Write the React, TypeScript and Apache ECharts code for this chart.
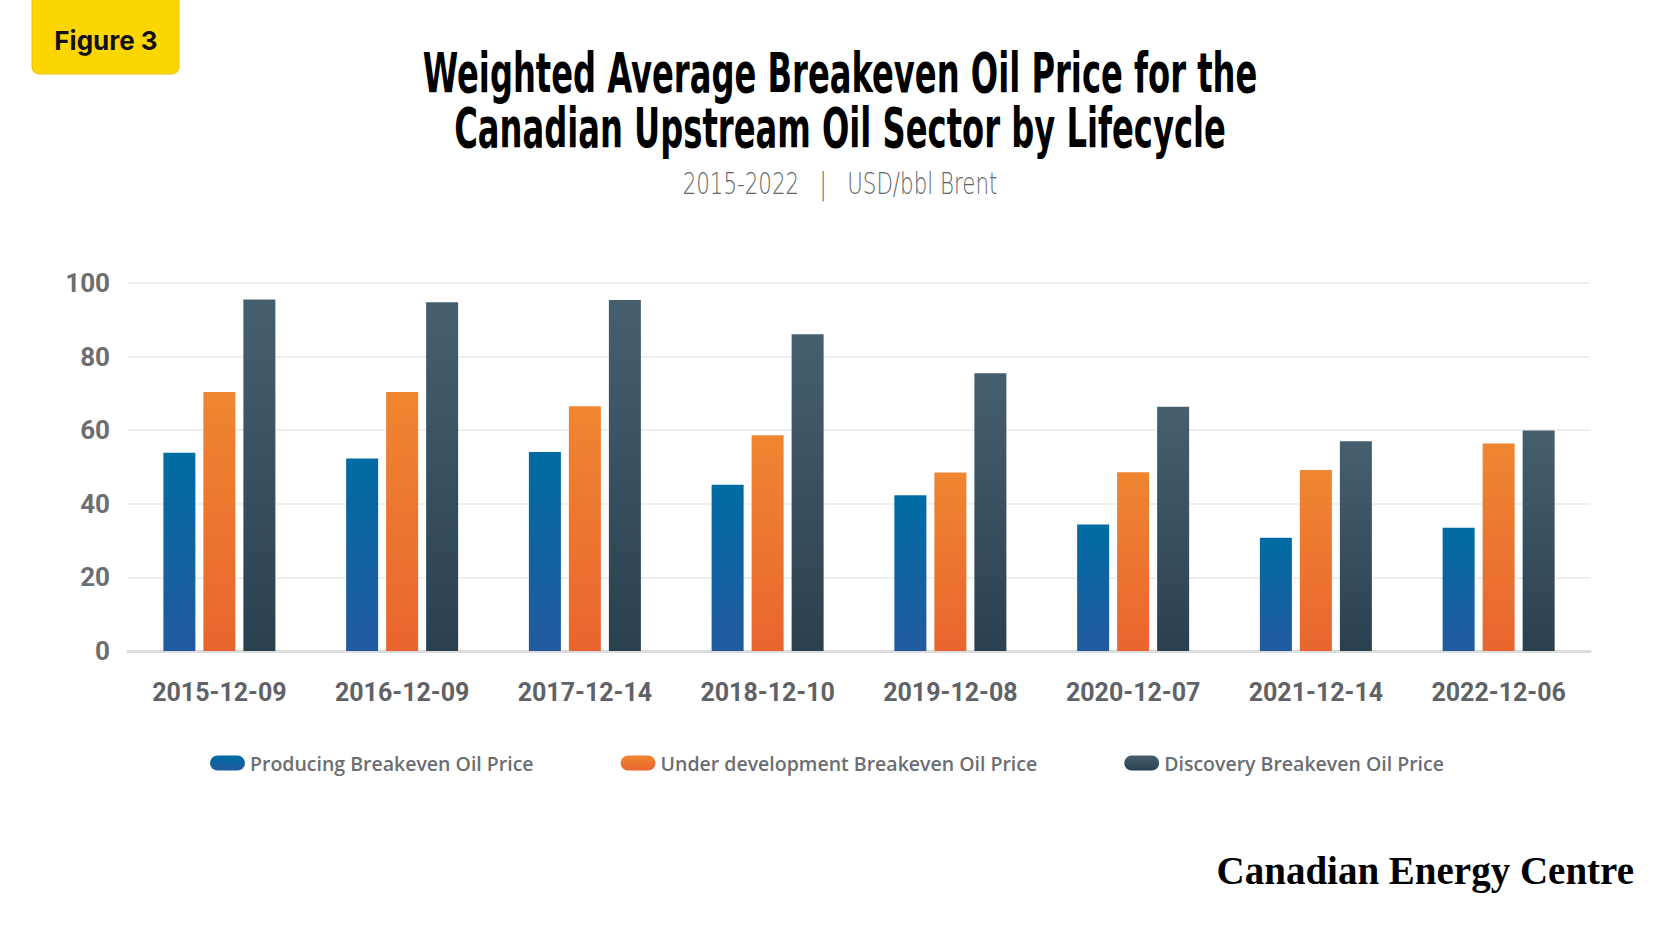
import React, { useRef, useEffect } from "react";
import * as echarts from "echarts";

const categories = [
  "2015-12-09",
  "2016-12-09",
  "2017-12-14",
  "2018-12-10",
  "2019-12-08",
  "2020-12-07",
  "2021-12-14",
  "2022-12-06",
];
const producing = [53.9, 52.3, 54.1, 45.2, 42.3, 34.4, 30.8, 33.5];
const underDevelopment = [70.4, 70.4, 66.5, 58.6, 48.5, 48.6, 49.2, 56.4];
const discovery = [95.5, 94.8, 95.4, 86.1, 75.5, 66.4, 57.0, 59.9];
const seriesNames = [
  "Producing Breakeven Oil Price",
  "Under development Breakeven Oil Price",
  "Discovery Breakeven Oil Price",
];
const titleLines = [
  "Weighted Average Breakeven Oil Price for the",
  "Canadian Upstream Oil Sector by Lifecycle",
];
const subtitle = "2015-2022   |   USD/bbl Brent";

const axisFont = "Roboto, sans-serif";
const pill = "path://M7.5,0 H27.5 A7.5,7.5 0 0 1 27.5,15 H7.5 A7.5,7.5 0 0 1 7.5,0 Z";

const grad = (top: string, bottom: string) =>
  new echarts.graphic.LinearGradient(0, 0, 0, 1, [
    { offset: 0, color: top },
    { offset: 1, color: bottom },
  ]);

const App = function () {
  const chart = useRef<HTMLDivElement>(null);
  useEffect(() => {
    if (!chart.current) return;
    const myChart = echarts.init(chart.current, null, { renderer: "svg" });
    const barStyle = (top: string, bottom: string) => ({
      color: grad(top, bottom),
    });
    const option = {
      animation: false,
      backgroundColor: "#fff",
      grid: { left: 128, right: 90, top: 283, bottom: 277 },
      legend: {
        top: 748,
        left: 205,
        icon: pill,
        itemWidth: 35,
        itemHeight: 15,
        itemGap: 87,
        textStyle: {
          color: "#6b6e73",
          fontSize: 19.5,
          fontWeight: 600,
          fontFamily: '"Open Sans", sans-serif',
        },
        data: seriesNames,
      },
      xAxis: {
        type: "category",
        data: categories,
        axisLine: { lineStyle: { color: "#dcdcdc", width: 3 } },
        axisTick: {
          alignWithLabel: true,
          length: 10,
          lineStyle: { color: "#d0d0d0", width: 2 },
        },
        axisLabel: {
          interval: 0,
          color: "#5f6266",
          fontSize: 25,
          fontWeight: "bold",
          fontFamily: axisFont,
          margin: 29,
        },
      },
      yAxis: {
        type: "value",
        min: 0,
        max: 100,
        interval: 20,
        axisLabel: {
          color: "#6b6e73",
          fontSize: 26,
          fontWeight: "bold",
          fontFamily: axisFont,
          margin: 18,
        },
        splitLine: { lineStyle: { color: "#efefef", width: 2 } },
      },
      series: [
        {
          name: seriesNames[0],
          type: "bar",
          data: producing,
          barWidth: 32,
          barGap: "25%",
          itemStyle: barStyle("#006ba3", "#225a9f"),
        },
        {
          name: seriesNames[1],
          type: "bar",
          data: underDevelopment,
          barWidth: 32,
          barGap: "25%",
          itemStyle: barStyle("#ef8631", "#e9652f"),
        },
        {
          name: seriesNames[2],
          type: "bar",
          data: discovery,
          barWidth: 32,
          barGap: "25%",
          itemStyle: barStyle("#465f6f", "#2b404f"),
        },
      ],
      graphic: [
        {
          type: "rect",
          shape: { x: 32, y: -10, width: 147, height: 84, r: 7 },
          style: { fill: "#fdd600", stroke: "#e8c400", lineWidth: 1 },
        },
        {
          type: "text",
          x: 106,
          y: 40,
          style: {
            text: "Figure 3",
            fill: "#111",
            fontSize: 26,
            fontWeight: "bold",
            fontFamily: "Inter, sans-serif",
            textAlign: "center",
            textVerticalAlign: "middle",
            verticalAlign: "middle",
          },
        },
        ...titleLines.map((t, i) => ({
          type: "text",
          x: 840,
          y: 73 + i * 55,
          scaleX: 0.575,
          style: {
            text: t,
            fill: "#000",
            fontSize: 56,
            fontWeight: "bold",
            fontFamily: '"DejaVu Sans", sans-serif',
            textAlign: "center",
            textVerticalAlign: "middle",
            verticalAlign: "middle",
          },
        })),
        {
          type: "text",
          x: 840,
          y: 183,
          scaleX: 0.69,
          style: {
            text: subtitle,
            fill: "#666",
            fontSize: 31,
            fontWeight: 200,
            fontFamily: '"DejaVu Sans", sans-serif',
            textAlign: "center",
            textVerticalAlign: "middle",
            verticalAlign: "middle",
          },
        },
        {
          type: "text",
          x: 1634,
          y: 870,
          style: {
            text: "Canadian Energy Centre",
            fill: "#000",
            fontSize: 39,
            fontWeight: "bold",
            fontFamily: '"Liberation Serif", "DejaVu Serif", serif',
            textAlign: "right",
            textVerticalAlign: "middle",
            verticalAlign: "middle",
          },
        },
      ],
    };
    myChart.setOption(option as any);
    return () => {
      myChart.dispose();
    };
  }, []);
  return (
    <div
      ref={chart}
      style={{ position: "fixed", left: 0, top: 0, width: 1680, height: 928 }}
    ></div>
  );
};
export default App;
